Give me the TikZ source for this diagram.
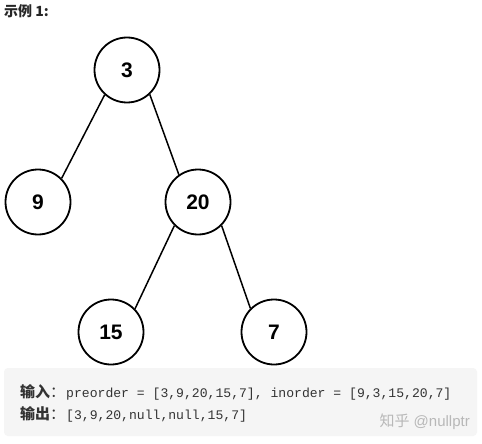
\documentclass[tikz,border=0pt]{standalone}
\usepackage{fontspec}
\setmainfont{Liberation Sans}
\setmonofont{Liberation Mono}
\newfontfamily\cjk{Noto Sans CJK SC}
\begin{document}
\begin{tikzpicture}[x=1pt,y=-1pt,
  tn/.style={circle,draw=black,line width=1.8pt,minimum size=65pt,inner sep=0pt,font=\fontsize{21}{21}\selectfont\bfseries},
  edge/.style={line width=1.5pt,draw=black},
  lbl/.style={anchor=base west,inner sep=0pt,text=black!80,font=\fontsize{15}{15}\selectfont\cjk},
  code/.style={anchor=base west,inner sep=0pt,text=black!80,font=\fontsize{13.1}{13}\selectfont\ttfamily}]
\useasboundingbox (0,0) rectangle (482,444);
\fill[white] (0,0) rectangle (482,444);
\node[anchor=base west,inner sep=0pt,font=\fontsize{14}{14}\selectfont\bfseries\cjk,text=black!85] (title) at (4,17) {示例 1:};
\node[tn] (n3) at (127,70) {3};
\node[tn] (n9) at (38,202) {9};
\node[tn] (n20) at (198,202) {20};
\node[tn] (n15) at (111,332) {15};
\node[tn] (n7) at (274,332) {7};
\draw[edge] (n3.228) -- (n9.45);
\draw[edge] (n3.313) -- (n20.125);
\draw[edge] (n20.225) -- (n15.44);
\draw[edge] (n20.315) -- (n7.135);
\fill[black!4,rounded corners=4pt] (4,368) rectangle (477,436);
\node[lbl] (inl) at (20,397) {{\bfseries 输入}：};
\node[code] (in) at (66,397) {preorder = [3,9,20,15,7], inorder = [9,3,15,20,7]};
\node[lbl] (outl) at (20,419) {{\bfseries 输出}：};
\node[code] (out) at (66,419) {[3,9,20,null,null,15,7]};
\node[anchor=base east,inner sep=0pt,text=black!28,font=\fontsize{15}{15}\selectfont] (wm) at (470,426) {{\cjk 知乎} @nullptr};
\end{tikzpicture}
\end{document}
